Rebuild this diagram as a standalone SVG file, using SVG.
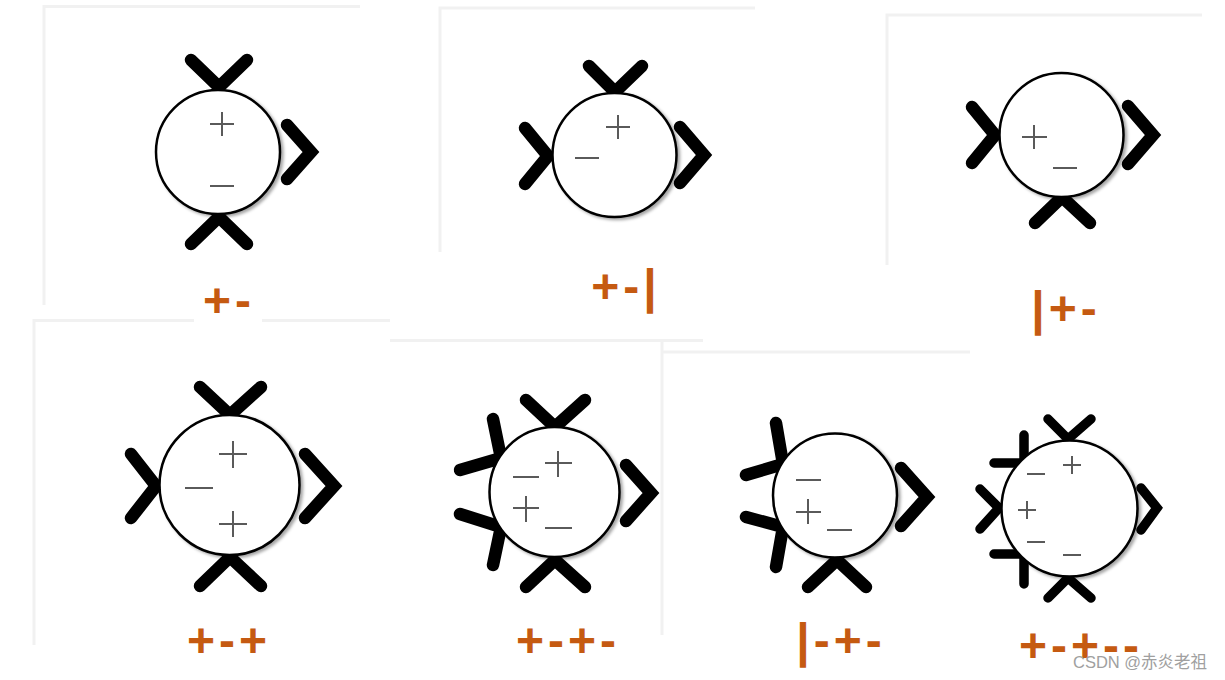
<svg xmlns="http://www.w3.org/2000/svg" width="1225" height="680" viewBox="0 0 1225 680">
<defs>
<filter id="sh" x="-20%" y="-20%" width="150%" height="150%">
<feDropShadow dx="2.5" dy="2" stdDeviation="1.8" flood-color="#000" flood-opacity="0.35"/>
</filter>
<style>
.edge{stroke:#f1f1f1;stroke-width:3;fill:none}
.chev{stroke:#000;stroke-width:12.5;fill:none;stroke-linecap:round;stroke-linejoin:miter;stroke-miterlimit:10}
.thin{stroke-width:9.5}
.body{fill:#fff;stroke:#000;stroke-width:2.5;filter:url(#sh)}
.mark{stroke:#5a5a5a;stroke-width:2;fill:none}
.lbl{font-family:"Liberation Sans",Arial,sans-serif;font-weight:bold;font-size:48px;letter-spacing:4px;fill:#C55A11;text-anchor:middle}
.wm{font-family:"Liberation Sans","Noto Sans CJK SC",sans-serif;font-size:16.5px;fill:#a0a0a0}
</style>
</defs>
<rect width="1225" height="680" fill="#fff"/>
<g id="panel-frames">
<path class="edge" d="M44,305 V6.5 H360"/>
<path class="edge" d="M440,252 V8 H755"/>
<path class="edge" d="M887,265 V15 H1202"/>
<path class="edge" d="M34,645 V320.5 H194 M262,320.5 H390"/>
<path class="edge" d="M390,340.5 H703 M662,342 V635"/>
<path class="edge" d="M662,352 H970"/>
</g>
<g id="node-1">
<polyline class="chev" points="191,60 219,87 247,60"/>
<polyline class="chev" points="191,244 219,217 247,244"/>
<polyline class="chev" points="287,125 311,152 287,179"/>
<circle class="body" cx="218" cy="152" r="62"/>
<path class="mark" d="M210,124 H234 M222,112 V136 M210,186 H234"/>
<text class="lbl" x="229" y="317">+-</text>
</g>
<g id="node-2">
<polyline class="chev" points="589,66 615,92 642,66"/>
<polyline class="chev" points="525,128 548,156 525,184"/>
<polyline class="chev" points="680,127 704,155 680,183"/>
<circle class="body" cx="614.5" cy="155" r="62"/>
<path class="mark" d="M606,127 H630 M618,115 V139 M575,158 H599"/>
<text class="lbl" x="626" y="303">+-|</text>
</g>
<g id="node-3">
<polyline class="chev" points="972,107 995,135 972,163"/>
<polyline class="chev" points="1128,106 1153,135 1128,164"/>
<polyline class="chev" points="1035,223 1062,197 1090,223"/>
<circle class="body" cx="1061.5" cy="135" r="62"/>
<path class="mark" d="M1022,137 H1047 M1034,125 V149 M1053,168 H1077"/>
<text class="lbl" x="1066" y="325">|+-</text>
</g>
<g id="node-4">
<polyline class="chev" points="200,387 230,415 261,387"/>
<polyline class="chev" points="200,586 230,557 261,586"/>
<polyline class="chev" points="131,454 156,486 131,518"/>
<polyline class="chev" points="305,454 334,486 305,518"/>
<circle class="body" cx="229.5" cy="485" r="70"/>
<path class="mark" d="M219,454 H247 M233,441 V468 M185,488 H213 M219,524 H247 M233,511 V537"/>
<text class="lbl" x="229" y="657">+-+</text>
</g>
<g id="node-5">
<polyline class="chev" points="526,400 555,427 585,400"/>
<polyline class="chev" points="526,587 555,560 585,587"/>
<polyline class="chev" points="626,465 651,493 626,521"/>
<polyline class="chev" points="493,419 501,458 460,470"/>
<polyline class="chev" points="460,514 501,527 493,565"/>
<circle class="body" cx="554.5" cy="492" r="65"/>
<path class="mark" d="M513,477 H539 M545,463 H572 M558,451 V477 M513,508 H539 M526,496 V522 M545,528 H572"/>
<text class="lbl" x="568" y="657">+-+-</text>
</g>
<g id="node-6">
<polyline class="chev" points="901,468 927,497 901,526"/>
<polyline class="chev" points="808,587 837,560 866,587"/>
<polyline class="chev" points="776,423 783,464 746,475"/>
<polyline class="chev" points="746,517 783,527 776,567"/>
<circle class="body" cx="835" cy="495.5" r="62"/>
<path class="mark" d="M796,480 H821 M796,512 H821 M808,499 V524 M827,530 H852"/>
<text class="lbl" x="841" y="657">|-+-</text>
</g>
<g id="node-7">
<polyline class="chev thin" points="1048,419 1068,439 1091,419"/>
<polyline class="chev thin" points="1048,598 1068,578 1091,598"/>
<polyline class="chev thin" points="1141,488 1157,508 1141,530"/>
<polyline class="chev thin" points="980,489 999,508 980,529"/>
<polyline class="chev thin" points="994,463 1024,463 1024,435"/>
<polyline class="chev thin" points="994,554 1024,554 1024,584"/>
<circle class="body" cx="1069.5" cy="508.5" r="68"/>
<path class="mark" d="M1027,474 H1045 M1063,465 H1081 M1072,456 V474 M1018,510 H1036 M1027,501 V519 M1027,542 H1045 M1063,555 H1081"/>
<text class="lbl" x="1081" y="662">+-+--</text>
</g>
<text class="wm" x="1073" y="668">CSDN @赤炎老祖</text>
</svg>
